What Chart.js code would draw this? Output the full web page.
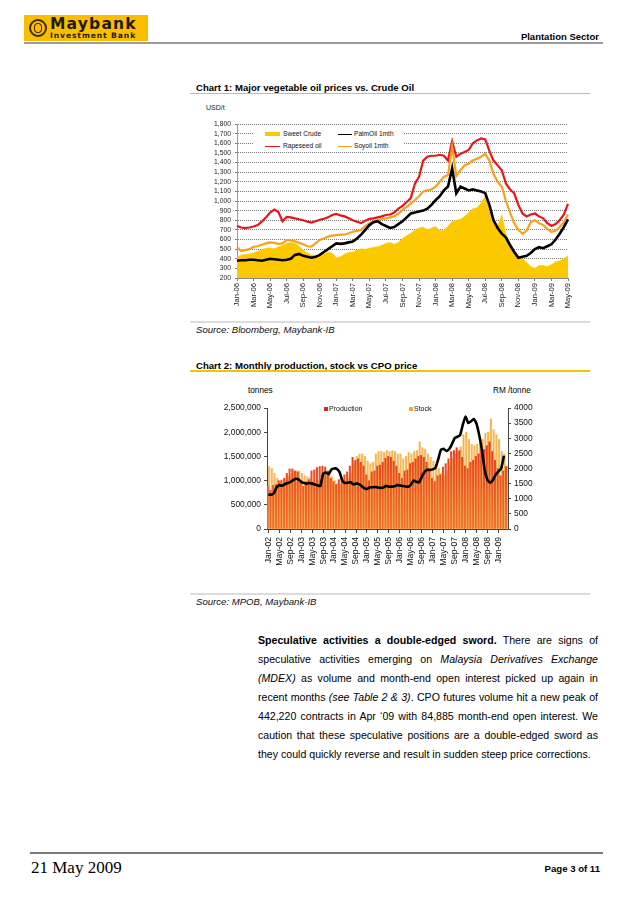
<!DOCTYPE html>
<html><head><meta charset="utf-8">
<script src="https://cdn.jsdelivr.net/npm/chart.js@4.4.1/dist/chart.umd.min.js"></script>
<style>
html,body{margin:0;padding:0;background:#fff;}
body{width:638px;height:903px;position:relative;overflow:hidden;font-family:'Liberation Sans',Arial,sans-serif;color:#000;}
.abs{position:absolute;white-space:nowrap;}
.ttl{font-weight:bold;font-size:9.6px;line-height:11px;}
.rule-y{position:absolute;height:1.6px;background:#f2c300;}
.rule-g{position:absolute;height:2px;background:#dcdcdc;}
.src{font-style:italic;font-size:9.6px;line-height:11px;color:#111;}
.para div{position:absolute;left:258px;width:340px;height:19px;line-height:19px;font-size:10.6px;text-align:justify;text-align-last:justify;white-space:nowrap;}
.para div.last{text-align:left;text-align-last:left;}
.lg{font-size:6.6px;line-height:8px;color:#111;}
.l2{font-size:7px;line-height:8px;color:#111;}
</style></head><body>

<!-- header -->
<div class="abs" style="left:24px;top:15px;width:124px;height:26px;background:#fbbd00;">
  <div class="abs" style="left:5px;top:4px;width:14px;height:14px;border:2px solid #3b2b05;border-radius:50%;"></div>
  <div class="abs" style="left:10px;top:8px;width:6px;height:8px;border:1.5px solid #3b2b05;border-radius:45%;"></div>
  <div class="abs" style="left:26px;top:0px;font-family:'DejaVu Sans',sans-serif;font-weight:900;font-size:15.5px;line-height:18px;letter-spacing:1.2px;color:#1b1b1b;">Maybank</div>
  <div class="abs" style="left:26px;top:16px;font-family:'DejaVu Sans',sans-serif;font-weight:bold;font-size:7.6px;line-height:9px;letter-spacing:0.9px;color:#1b1b1b;">Investment Bank</div>
</div>
<div class="abs" style="right:39px;top:31px;font-weight:bold;font-size:9.5px;line-height:11px;">Plantation Sector</div>
<div class="abs" style="left:24px;top:42px;width:579px;height:2px;background:#9c9c9c;"></div>

<!-- chart 1 -->
<div class="abs ttl" style="left:196px;top:82px;">Chart 1: Major vegetable oil prices vs. Crude Oil</div>
<div class="rule-y" style="left:190px;top:92.5px;width:400px;"></div>
<div class="abs" style="left:206px;top:104px;font-size:7px;line-height:8px;color:#222;">USD/t</div>
<div class="abs" style="left:190px;top:100px;width:400px;height:220px;"><canvas id="c1" width="400" height="220"></canvas></div>
<div class="abs" style="left:253px;top:127px;width:150px;height:24px;background:#fff;">
  <div class="abs" style="left:12px;top:5px;width:15px;height:4px;background:#fcc800;"></div>
  <div class="abs lg" style="left:30px;top:3px;">Sweet Crude</div>
  <div class="abs" style="left:85px;top:6.5px;width:14px;height:1.4px;background:#000;"></div>
  <div class="abs lg" style="left:101px;top:3px;">PalmOil 1mth</div>
  <div class="abs" style="left:12px;top:18.5px;width:15px;height:1.4px;background:#e8161b;"></div>
  <div class="abs lg" style="left:30px;top:15px;">Rapeseed oil</div>
  <div class="abs" style="left:85px;top:18.5px;width:14px;height:1.4px;background:#f7a21b;"></div>
  <div class="abs lg" style="left:101px;top:15px;">Soyoil 1mth</div>
</div>
<div class="rule-g" style="left:190px;top:320.5px;width:400px;"></div>
<div class="abs src" style="left:196px;top:324px;">Source: Bloomberg, Maybank-IB</div>

<!-- chart 2 -->
<div class="abs ttl" style="left:196px;top:359.5px;">Chart 2: Monthly production, stock vs CPO price</div>
<div class="rule-y" style="left:190px;top:370px;width:400px;"></div>
<div class="abs" style="left:248px;top:386px;font-size:8.2px;line-height:10px;">tonnes</div>
<div class="abs" style="left:493px;top:386px;font-size:8.2px;line-height:10px;">RM /tonne</div>
<div class="abs" style="left:190px;top:383px;width:400px;height:210px;"><canvas id="c2" width="400" height="210"></canvas></div>
<div class="abs" style="left:324px;top:407px;width:4px;height:4px;background:#e3241b;"></div>
<div class="abs l2" style="left:329px;top:405px;">Production</div>
<div class="abs" style="left:409px;top:407px;width:4px;height:4px;background:#f4a93a;"></div>
<div class="abs l2" style="left:414px;top:405px;">Stock</div>
<div class="rule-g" style="left:190px;top:592.5px;width:400px;"></div>
<div class="abs src" style="left:196px;top:596px;">Source: MPOB, Maybank-IB</div>

<!-- paragraph -->
<div class="para">
<div style="top:630.5px;"><b>Speculative activities a double-edged sword.</b> There are signs of</div>
<div style="top:649.5px;">speculative activities emerging on <i>Malaysia Derivatives Exchange</i></div>
<div style="top:668.5px;"><i>(MDEX)</i> as volume and month-end open interest picked up again in</div>
<div style="top:687.5px;">recent months <i>(see Table 2 &amp; 3)</i>. CPO futures volume hit a new peak of</div>
<div style="top:706.5px;">442,220 contracts in Apr ‘09 with 84,885 month-end open interest. We</div>
<div style="top:725.5px;">caution that these speculative positions are a double-edged sword as</div>
<div class="last" style="top:744.5px;">they could quickly reverse and result in sudden steep price corrections.</div>
</div>

<!-- footer -->
<div class="abs" style="left:30px;top:852px;width:573px;height:1.5px;background:#7a7a7a;"></div>
<div class="abs" style="left:31px;top:858px;font-family:'Liberation Serif','Times New Roman',serif;font-size:17px;line-height:20px;">21 May 2009</div>
<div class="abs" style="right:38px;top:863px;font-weight:bold;font-size:9.6px;line-height:11px;">Page 3 of 11</div>

<script>
// ---------- Chart 1 data (USD/t), two readings per month, Jan-06 .. May-09 ----------
const months1 = ['Jan-06','Feb-06','Mar-06','Apr-06','May-06','Jun-06','Jul-06','Aug-06','Sep-06','Oct-06','Nov-06','Dec-06',
 'Jan-07','Feb-07','Mar-07','Apr-07','May-07','Jun-07','Jul-07','Aug-07','Sep-07','Oct-07','Nov-07','Dec-07',
 'Jan-08','Feb-08','Mar-08','Apr-08','May-08','Jun-08','Jul-08','Aug-08','Sep-08','Oct-08','Nov-08','Dec-08',
 'Jan-09','Feb-09','Mar-09','Apr-09','May-09'];
const rapeseedOil = [740,725,718,725,735,750,785,830,880,910,
 885,790,835,830,820,810,800,785,775,790,
 805,815,830,855,865,850,840,820,800,785,
 770,795,815,820,830,840,855,860,880,920,
 950,990,1030,1180,1250,1420,1460,1470,1470,1480,
 1470,1420,1620,1460,1490,1510,1530,1600,1630,1650,
 1640,1520,1420,1370,1320,1180,1120,1080,960,870,
 840,860,870,840,820,770,740,760,800,860,
 970];
const soyoil1mth = [520,480,490,500,525,530,545,560,570,565,
 555,560,595,590,580,565,550,530,525,560,
 595,610,630,640,645,650,650,665,680,690,
 700,740,770,790,800,815,820,830,840,870,
 905,940,975,1010,1050,1100,1110,1120,1150,1200,
 1250,1270,1560,1260,1320,1370,1390,1420,1440,1460,
 1490,1420,1280,1200,1150,1000,880,770,700,660,
 690,780,800,770,750,710,680,690,730,780,
 860];
const palmOil1mth = [380,385,385,390,390,385,380,390,400,395,
 390,385,390,400,440,450,430,420,410,420,
 440,470,500,530,560,555,560,570,580,610,
 650,700,750,780,790,760,740,720,730,760,
 790,830,870,880,890,900,920,960,1010,1050,
 1110,1150,1340,1080,1150,1130,1110,1120,1110,1100,
 1080,960,800,720,660,620,540,470,410,420,
 430,460,500,520,510,530,550,600,660,730,
 810];
const sweetCrude = [420,440,445,450,460,480,495,510,515,505,
 525,540,560,570,560,530,490,460,440,430,
 425,450,470,460,410,420,450,465,470,490,
 505,500,510,520,525,540,560,570,550,570,
 610,640,665,700,720,730,700,720,735,690,
 700,740,790,800,810,840,880,920,930,980,
 1050,930,800,740,860,660,570,490,430,400,
 360,320,300,330,330,320,340,370,380,400,
 430];

// ---------- Chart 2 data, Jan-02 .. Apr-09 ----------
const months2 = ['Jan-02','Feb-02','Mar-02','Apr-02','May-02','Jun-02','Jul-02','Aug-02','Sep-02','Oct-02','Nov-02','Dec-02',
 'Jan-03','Feb-03','Mar-03','Apr-03','May-03','Jun-03','Jul-03','Aug-03','Sep-03','Oct-03','Nov-03','Dec-03',
 'Jan-04','Feb-04','Mar-04','Apr-04','May-04','Jun-04','Jul-04','Aug-04','Sep-04','Oct-04','Nov-04','Dec-04',
 'Jan-05','Feb-05','Mar-05','Apr-05','May-05','Jun-05','Jul-05','Aug-05','Sep-05','Oct-05','Nov-05','Dec-05',
 'Jan-06','Feb-06','Mar-06','Apr-06','May-06','Jun-06','Jul-06','Aug-06','Sep-06','Oct-06','Nov-06','Dec-06',
 'Jan-07','Feb-07','Mar-07','Apr-07','May-07','Jun-07','Jul-07','Aug-07','Sep-07','Oct-07','Nov-07','Dec-07',
 'Jan-08','Feb-08','Mar-08','Apr-08','May-08','Jun-08','Jul-08','Aug-08','Sep-08','Oct-08','Nov-08','Dec-08',
 'Jan-09','Feb-09','Mar-09','Apr-09'];
const production = [880000,800000,900000,920000,1000000,1010000,1050000,1150000,1240000,1240000,1200000,1180000,
 1000000,880000,980000,1020000,1200000,1220000,1270000,1290000,1300000,1280000,1200000,1050000,
 980000,920000,1020000,1040000,1120000,1180000,1300000,1480000,1420000,1450000,1380000,1300000,
 1120000,1000000,1180000,1200000,1300000,1320000,1380000,1460000,1500000,1480000,1400000,1300000,
 1150000,1050000,1200000,1220000,1350000,1380000,1450000,1500000,1520000,1480000,1380000,1250000,
 1050000,980000,1100000,1120000,1280000,1350000,1450000,1600000,1620000,1680000,1620000,1480000,
 1300000,1250000,1380000,1420000,1500000,1550000,1650000,1640000,1720000,1800000,1600000,1420000,
 1250000,1100000,1200000,1290000];
const stock = [1290000,1250000,1150000,1050000,980000,960000,1020000,1080000,1120000,1180000,1200000,1200000,
 1150000,1100000,1080000,1050000,980000,960000,1000000,1050000,1060000,1100000,1120000,1080000,
 1000000,950000,920000,950000,1000000,1050000,1150000,1350000,1500000,1550000,1550000,1500000,
 1400000,1350000,1380000,1550000,1600000,1600000,1580000,1620000,1600000,1620000,1600000,1550000,
 1550000,1450000,1500000,1580000,1550000,1600000,1620000,1800000,1680000,1650000,1550000,1480000,
 1400000,1300000,1250000,1150000,1100000,1200000,1300000,1450000,1550000,1600000,1700000,1950000,
 2000000,1850000,1750000,1720000,1750000,1780000,1850000,1980000,2000000,2270000,2050000,1950000,
 1850000,1600000,1550000,1300000];
const cpoPrice = [1140,1130,1180,1380,1450,1430,1480,1520,1550,1610,1660,1640,
 1560,1520,1500,1520,1500,1470,1440,1420,1830,1870,1810,1960,
 2000,1990,1880,1600,1520,1530,1550,1480,1500,1490,1420,1350,
 1320,1370,1380,1390,1370,1360,1370,1430,1400,1400,1410,1450,
 1440,1420,1410,1400,1460,1600,1560,1540,1720,1880,1960,1950,
 1970,2020,2300,2620,2650,2580,2640,2800,3000,3050,3100,3450,
 3720,3500,3560,3640,3480,3100,2600,1950,1620,1530,1620,1800,
 1900,2000,2420,null];
const legend1 = ['Sweet Crude','PalmOil 1mth','Rapeseed oil','Soyoil 1mth'];
const legend2 = ['Production','Stock','CPO price'];

Chart.defaults.font.family = "'Liberation Sans', Arial, sans-serif";
Chart.defaults.color = '#111';

// labels for chart 1: month name at start, blank at mid-month
const labels1 = [];
months1.forEach((m, i) => { labels1.push(m); if (i < months1.length - 1) labels1.push(''); });

new Chart(document.getElementById('c1'), {
  type: 'line',
  data: {
    labels: labels1,
    datasets: [
      {label: legend1[1], data: palmOil1mth, borderColor: '#000', borderWidth: 2.6, pointRadius: 0, tension: 0, order: 0},
      {label: legend1[3], data: soyoil1mth, borderColor: '#f7a21b', borderWidth: 2.2, pointRadius: 0, tension: 0, order: 1},
      {label: legend1[2], data: rapeseedOil, borderColor: '#e8161b', borderWidth: 2.2, pointRadius: 0, tension: 0, order: 2},
      {label: legend1[0], data: sweetCrude, borderColor: '#fcc800', borderWidth: 0.5, backgroundColor: '#fcc800', fill: 'start', pointRadius: 0, tension: 0, order: 3}
    ]
  },
  options: {
    responsive: false, animation: false, devicePixelRatio: 1,
    layout: {padding: {left: 0, right: 22, top: 24, bottom: 0}},
    plugins: {legend: {display: false}, tooltip: {enabled: false}},
    scales: {
      x: {
        grid: {drawOnChartArea: false, tickLength: 3, color: c => (c.index % 4 === 0 ? '#777' : 'rgba(0,0,0,0)')},
        border: {color: '#888', width: 1},
        ticks: {autoSkip: false, minRotation: 90, maxRotation: 90, padding: 2, font: {size: 7.6}, color: '#222',
                callback: (v, i) => (i % 4 === 0 ? labels1[i] : '')},
        afterFit: s => { s.height = 42; }
      },
      y: {
        min: 200, max: 1800,
        ticks: {stepSize: 100, autoSkip: false, font: {size: 6.8}, color: '#222', padding: 4},
        grid: {color: '#5a5a5a', lineWidth: 0.8, tickLength: 2},
        border: {color: '#999', width: 1, dash: [1, 1]},
        afterFit: s => { s.width = 47; }
      }
    }
  }
});

function grad(ctx, top, bottom) {
  const chart = ctx.chart, a = chart.chartArea;
  if (!a) return top;
  const g = chart.ctx.createLinearGradient(0, a.top, 0, a.bottom);
  g.addColorStop(0, top); g.addColorStop(1, bottom);
  return g;
}

new Chart(document.getElementById('c2'), {
  type: 'bar',
  data: {
    labels: months2,
    datasets: [
      {type: 'line', label: legend2[2], data: cpoPrice, yAxisID: 'y2', borderColor: '#000', borderWidth: 2.6, pointRadius: 0, tension: 0.15, order: 0},
      {label: legend2[0], data: production, yAxisID: 'y', backgroundColor: c => grad(c, '#e0221a', '#ef7428'), categoryPercentage: 1.0, barPercentage: 1.0, order: 1},
      {label: legend2[1], data: stock, yAxisID: 'y', backgroundColor: c => grad(c, '#f6b040', '#f8c070'), categoryPercentage: 1.0, barPercentage: 1.0, order: 2}
    ]
  },
  options: {
    responsive: false, animation: false, devicePixelRatio: 1,
    layout: {padding: {left: 0, right: 0, top: 25, bottom: 0}},
    plugins: {legend: {display: false}, tooltip: {enabled: false}},
    scales: {
      x: {
        offset: true,
        grid: {drawOnChartArea: false, offset: false, tickLength: 4, color: c => (c.index % 4 === 0 ? '#444' : 'rgba(0,0,0,0)')},
        border: {color: '#444', width: 1},
        ticks: {autoSkip: false, minRotation: 90, maxRotation: 90, padding: 4, font: {size: 8.6}, color: '#111',
                callback: (v, i) => (i % 4 === 0 ? months2[i] : '')},
        afterFit: s => { s.height = 64; }
      },
      y: {
        position: 'left', min: 0, max: 2500000,
        ticks: {stepSize: 500000, autoSkip: false, font: {size: 8.4}, color: '#111', padding: 3,
                callback: v => v.toLocaleString('en-US')},
        grid: {drawOnChartArea: false, tickLength: 3, color: '#444'},
        border: {color: '#444', width: 1},
        afterFit: s => { s.width = 77; }
      },
      y2: {
        position: 'right', min: 0, max: 4000,
        ticks: {stepSize: 500, autoSkip: false, font: {size: 8.4}, color: '#111', padding: 3, callback: v => String(v)},
        grid: {drawOnChartArea: false, tickLength: 3, color: '#444'},
        border: {color: '#444', width: 1},
        afterFit: s => { s.width = 82; }
      }
    }
  }
});
</script>
</body></html>
